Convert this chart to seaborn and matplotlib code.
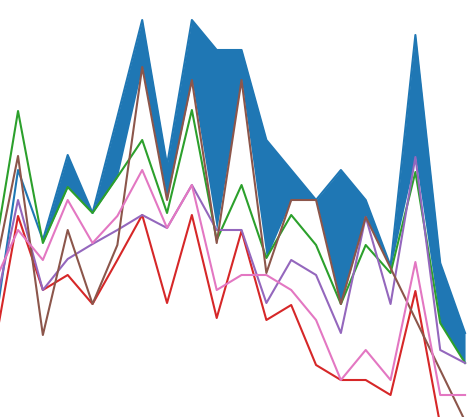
import numpy as np
import pandas as pd
import matplotlib
matplotlib.use("Agg")
import matplotlib.pyplot as plt
import seaborn as sns

# values (arbitrary units, 0 = bottom edge)
steps = list(range(20))
blue = [78, 247, 177, 262, 204, 300, 397, 252, 397, 367, 367, 277, 247, 217, 247, 217, 151, 382, 154, 84]
green = [156, 306, 174, 230, 204, 240, 277, 204, 307, 177, 232, 159, 202, 172, 113, 172, 144, 245, 94, 54]
red = [62, 201, 127, 142, 113, 157, 202, 114, 202, 99, 186, 97, 112, 52, 37, 37, 22, 126, -8, -23]
purple = [100, 217, 127, 158, 173, 187, 202, 189, 232, 187, 187, 114, 157, 142, 84, 200, 113, 260, 67, 54]
brown = [138, 261, 82, 187, 113, 172, 350, 217, 337, 174, 337, 144, 217, 217, 113, 200, 149, 98, 47, -4]
pink = [132, 187, 157, 217, 174, 201, 247, 189, 232, 127, 142, 142, 127, 97, 37, 67, 37, 155, 22, 22]

series = {"blue": blue, "green": green, "red": red, "purple": purple, "brown": brown, "pink": pink}
pal = sns.color_palette("tab10")
colors = {"blue": pal[0], "green": pal[2], "red": pal[3], "purple": pal[4], "brown": pal[5], "pink": pal[6]}

df = pd.DataFrame(series)
df["step"] = steps

fig = plt.figure(figsize=(4.74, 4.17), dpi=100)
ax = fig.add_axes([0, 0, 1, 1])

# blue band: from blue line down to the top of the other lines
others = df[["green", "red", "purple", "brown", "pink"]].max(axis=1).values
b = np.array(blue, dtype=float)
ax.fill_between(steps, b, others, where=b >= others, interpolate=True,
                color=colors["blue"], linewidth=0)

for name, vals in series.items():
    sns.lineplot(x=steps, y=vals, color=colors[name], linewidth=1.5, ax=ax)

ax.set_xlim(0.274, 19.36)
ax.set_ylim(0, 417)
ax.axis("off")

fig.savefig("out.png", dpi=100)
